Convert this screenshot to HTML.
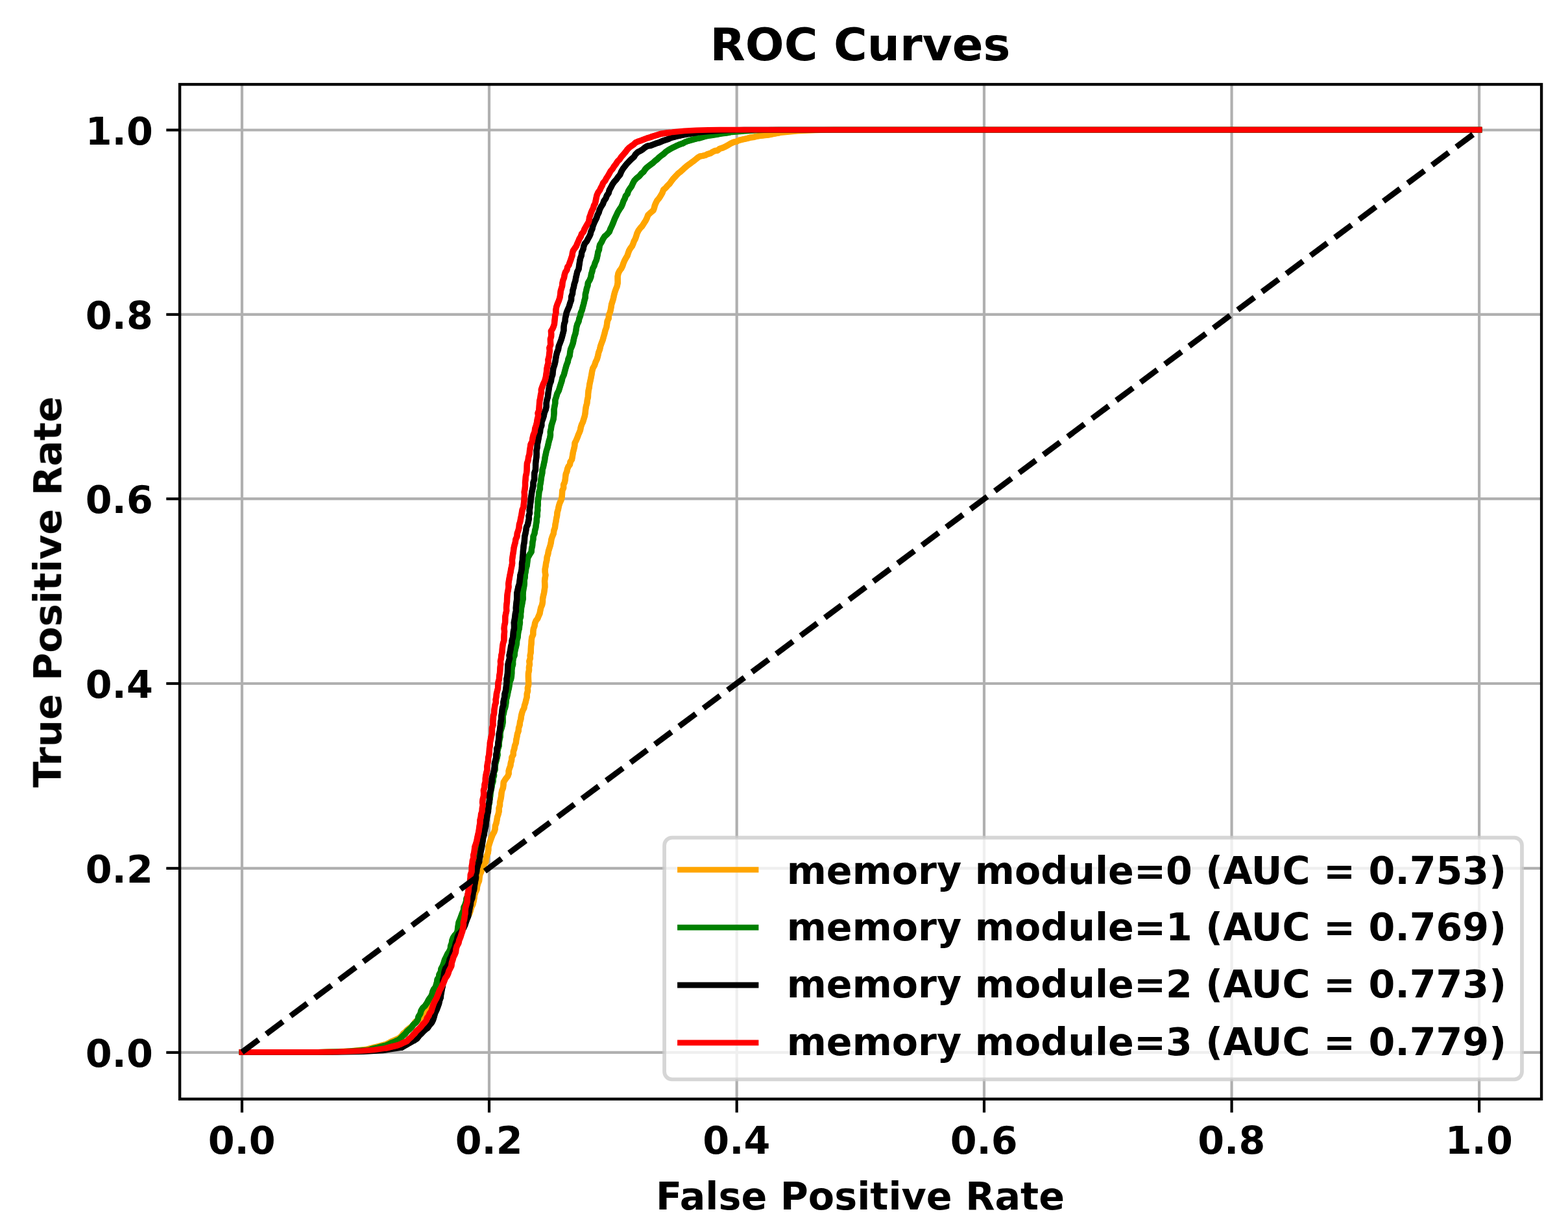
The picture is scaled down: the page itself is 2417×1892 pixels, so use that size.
<!DOCTYPE html>
<html lang="en"><head><meta charset="utf-8"><title>ROC Curves</title>
<style>html,body{margin:0;padding:0;background:#fff;overflow:hidden}svg{display:block}text{font-family:"DejaVu Sans","Liberation Sans",sans-serif;font-weight:bold;fill:#000}</style></head><body>
<svg xmlns="http://www.w3.org/2000/svg" width="2417" height="1892" viewBox="0 0 2417 1892">
<rect x="0" y="0" width="2417" height="1892" fill="#ffffff"/>
<defs><filter id="soft" x="0" y="0" width="2417" height="1892" filterUnits="userSpaceOnUse"><feGaussianBlur stdDeviation="0.35"/></filter></defs>
<g filter="url(#soft)">
<g stroke="#b0b0b0" stroke-width="4.2" fill="none">
<line x1="373" y1="130.1" x2="373" y2="1694.7"/>
<line x1="754" y1="130.1" x2="754" y2="1694.7"/>
<line x1="1135.7" y1="130.1" x2="1135.7" y2="1694.7"/>
<line x1="1517" y1="130.1" x2="1517" y2="1694.7"/>
<line x1="1898.6" y1="130.1" x2="1898.6" y2="1694.7"/>
<line x1="2280.1" y1="130.1" x2="2280.1" y2="1694.7"/>
<line x1="277.1" y1="1622.9" x2="2376.1" y2="1622.9"/>
<line x1="277.1" y1="1338.9" x2="2376.1" y2="1338.9"/>
<line x1="277.1" y1="1054" x2="2376.1" y2="1054"/>
<line x1="277.1" y1="769.2" x2="2376.1" y2="769.2"/>
<line x1="277.1" y1="484.9" x2="2376.1" y2="484.9"/>
<line x1="277.1" y1="200.5" x2="2376.1" y2="200.5"/>
</g>
<g fill="none" stroke-width="8.8" stroke-linejoin="round" stroke-linecap="square" transform="translate(0 -0.35)">
<polyline stroke="#ffa500" points="373,1622.7 490,1622.7 515,1621.9 540,1620.9 567.5,1618 572.08,1616.77 576.67,1615.54 581.26,1614.35 585.83,1613.06 590.42,1611.84 595,1610.6 599.06,1608.72 602.99,1606.58 607.12,1604.85 611.21,1603.03 615.2,1601 618.76,1598.15 621.41,1594.35 624.91,1591.44 628.01,1588.1 631.7,1585.4 635.06,1582.66 637.99,1579.49 640.4,1575.8 644.38,1573.68 647.41,1570.61 650,1567.1 652.91,1563.56 655.6,1559.86 658.2,1556.1 659.79,1551.67 661.63,1547.37 664.3,1543.46 665.72,1538.95 668.3,1535 669.75,1531.15 671.66,1527.52 673.23,1523.72 675.61,1520.34 677.5,1516.7 678.8,1512.08 680.71,1507.64 681.65,1502.91 683,1498.3 684.56,1493.78 685.75,1489.15 687.34,1484.64 688.5,1480 689.82,1476.23 690.96,1472.39 693.28,1468.99 694,1465 696.14,1461.51 697.44,1457.68 698.77,1453.86 700,1450 702.11,1445.54 704.33,1441.15 707,1437 710.53,1434.11 714.4,1431.7 715.22,1426.92 717.2,1422.5 719.59,1418.08 721.17,1413.29 723.79,1408.97 725.4,1404.2 726.62,1399.55 728.76,1395.18 729.99,1390.54 730.9,1385.8 731.37,1381.05 732.81,1376.55 734.91,1372.22 735.5,1367.5 736.68,1362.91 738.58,1358.51 739.01,1353.71 739.79,1349.01 741.76,1344.63 742.8,1340 745.14,1336.59 746.52,1332.64 748.8,1329.2 749.15,1324.5 750.4,1319.99 752.19,1315.58 752.82,1310.94 752.86,1306.18 754.3,1301.7 755.82,1296.97 757.48,1292.29 759.28,1287.67 761.7,1283.3 763.17,1278.81 763.39,1274.03 764.98,1269.57 765.89,1264.95 766.61,1260.29 768.1,1255.8 769.17,1251.27 769.09,1246.55 770.55,1242.08 770.57,1237.38 771.74,1232.87 772.6,1228.3 772.94,1223.83 773.76,1219.45 775.47,1215.21 775.98,1210.77 776.3,1206.3 779.28,1201.59 782.7,1197.2 784.15,1193.28 784.15,1189.03 785.32,1185.05 786.86,1181.15 787.3,1177 788.59,1172.65 788.96,1168.06 791.26,1163.97 791.31,1159.3 792.8,1155 793.54,1150.34 795.31,1145.92 795.77,1141.2 796.79,1136.6 797.55,1131.95 799.2,1127.5 799.52,1122.81 801.08,1118.36 801.5,1113.68 802.87,1109.19 803.44,1104.55 804.5,1100 805.79,1096.03 807.81,1092.31 808.53,1088.14 809.9,1084.2 810.93,1079.62 812.25,1075.1 812.24,1070.31 813.6,1065.8 813.34,1061.2 814.62,1056.68 814.72,1052.1 814.5,1047.5 814.37,1042.91 814.52,1038.33 815.51,1033.79 815.4,1029.2 816.46,1024.66 815.88,1019.96 817.38,1015.46 817.2,1010.8 818.21,1006.28 818.29,1001.66 818.52,997.06 819.1,992.5 819.23,987.84 819.81,983.26 821.77,978.87 821.8,974.2 822.38,969.82 823.95,965.66 824.6,961.3 826.12,957.5 828.66,954.2 830.2,950.41 831.9,946.7 832.77,942.03 833.76,937.39 835.65,932.97 836.5,928.3 836.58,923.64 837.47,919.09 838.61,914.59 839.2,910 839.92,905.45 839.81,900.86 839.57,896.26 840.1,891.7 840.93,887.13 840.19,882.48 840.17,877.86 841.1,873.3 841.68,868.66 842.83,864.14 843.2,859.46 844.7,855 845.41,850.31 846.82,845.81 848.25,841.3 849.3,836.7 849.95,831.97 851.41,827.45 853.28,823.03 853.9,818.3 855.48,813.86 855.97,809.19 856.94,804.63 857.6,800 858.65,795.36 858.97,790.57 860.4,786 861.31,780.91 862.82,776 865,771.3 866.17,766.5 866.48,761.6 866.8,756.7 868.66,752.58 868.62,747.92 870.5,743.8 871.29,739.56 871.68,735.26 872.3,731 873.84,727.44 874.53,723.59 876,720 878.46,716.65 879.13,712.4 881.5,709 882.46,703.51 883.3,698 884.56,693.16 885.72,688.3 886.1,683.3 888.24,679.16 890.03,674.88 891.6,670.5 893.19,666.96 894.55,663.35 895.2,659.5 896.54,655.16 898.51,651.05 899.8,646.7 901.28,641.91 902.18,637 902.6,632 903.39,627.08 904.8,622.27 905.3,617.3 906.41,612.5 906.6,607.58 907.1,602.7 908.21,597.83 908.8,592.87 909.9,588 910.91,583.12 911.85,578.23 912.6,573.3 913.88,568.23 916.45,563.64 918.1,558.7 920.29,554.01 921.67,549.06 922.7,544 924.54,539.2 925.62,534.15 927.3,529.3 929.15,524.53 930.47,519.6 931.9,514.7 933.05,509.78 934.83,505.02 935.6,500 936.19,495.43 938.24,491.24 938.41,486.56 940.2,482.3 941.26,478.21 942.02,474.04 942.61,469.84 943.9,465.8 945.4,461 946.36,456.07 947.6,451.2 949.29,446.35 951.23,441.58 952.2,436.5 952.16,431.58 952.12,426.66 953.1,421.8 954.99,417.99 957.58,414.59 959.5,410.8 960.95,406.37 962.74,402.08 965,398 967.06,394.55 968.27,390.75 969.6,387 971.66,383.29 974.34,379.94 976,376 977.31,372.24 979.28,368.76 980.6,365 982.01,360.25 984.2,355.8 986.89,352.08 990.08,348.72 992.5,344.8 995.15,340.79 997.24,336.5 998.9,332 1002.89,328.23 1007.1,324.7 1008.44,321.07 1009.32,317.28 1010.8,313.7 1012.81,309.75 1015.66,306.36 1018.1,302.7 1020.83,298.05 1022.7,293 1026.06,290.08 1028.92,286.7 1032.16,283.68 1034.7,280 1038.11,275.55 1042,271.5 1045.36,267.82 1049.29,264.78 1053,261.5 1056,258.63 1059.15,255.94 1062.52,253.53 1065.8,251 1069.1,248.77 1072.19,246.24 1075.25,243.67 1078.6,241.5 1082.83,240.78 1086.99,239.8 1090.88,237.91 1095,236.8 1098.46,234.6 1102.13,232.88 1106.31,232.3 1109.54,229.57 1113.5,228.5 1118.01,226.51 1122.3,224.09 1126.51,221.53 1131,219.5 1135.21,218.63 1139.12,216.69 1143.28,215.66 1147.5,214.8 1152.07,213.74 1156.58,212.43 1161.27,211.92 1165.8,210.7 1170.33,210 1174.88,209.39 1179.43,208.79 1184,208.4 1188.26,207.64 1192.5,206.79 1196.76,206.03 1201,205.2 1229.1,202.4 1256.6,201.1 1284.1,200.5 2280.1,200.5"/>
<polyline stroke="#ffa500" stroke-width="9.5" stroke-linecap="round" points="567.5,1618 572.08,1616.77 576.67,1615.54 581.26,1614.35 585.83,1613.06 590.42,1611.84 595,1610.6 599.06,1608.72 602.99,1606.58 607.12,1604.85 611.21,1603.03 615.2,1601 618.76,1598.15 621.41,1594.35 624.91,1591.44 628.01,1588.1 631.7,1585.4 635.06,1582.66 637.99,1579.49 640.4,1575.8 644.38,1573.68 647.41,1570.61 650,1567.1 652.91,1563.56 655.6,1559.86 658.2,1556.1 659.79,1551.67 661.63,1547.37 664.3,1543.46 665.72,1538.95 668.3,1535 669.75,1531.15 671.66,1527.52 673.23,1523.72 675.61,1520.34 677.5,1516.7 678.8,1512.08 680.71,1507.64 681.65,1502.91 683,1498.3 684.56,1493.78 685.75,1489.15 687.34,1484.64 688.5,1480 689.82,1476.23 690.96,1472.39 693.28,1468.99 694,1465 696.14,1461.51 697.44,1457.68 698.77,1453.86 700,1450 702.11,1445.54 704.33,1441.15 707,1437 710.53,1434.11 714.4,1431.7 715.22,1426.92 717.2,1422.5 719.59,1418.08 721.17,1413.29 723.79,1408.97 725.4,1404.2 726.62,1399.55 728.76,1395.18 729.99,1390.54 730.9,1385.8 731.37,1381.05 732.81,1376.55 734.91,1372.22 735.5,1367.5 736.68,1362.91 738.58,1358.51 739.01,1353.71 739.79,1349.01 741.76,1344.63 742.8,1340 745.14,1336.59 746.52,1332.64 748.8,1329.2 749.15,1324.5 750.4,1319.99 752.19,1315.58 752.82,1310.94 752.86,1306.18 754.3,1301.7 755.82,1296.97 757.48,1292.29 759.28,1287.67 761.7,1283.3 763.17,1278.81 763.39,1274.03 764.98,1269.57 765.89,1264.95 766.61,1260.29 768.1,1255.8 769.17,1251.27 769.09,1246.55 770.55,1242.08 770.57,1237.38 771.74,1232.87 772.6,1228.3 772.94,1223.83 773.76,1219.45 775.47,1215.21 775.98,1210.77 776.3,1206.3 779.28,1201.59 782.7,1197.2 784.15,1193.28 784.15,1189.03 785.32,1185.05 786.86,1181.15 787.3,1177 788.59,1172.65 788.96,1168.06 791.26,1163.97 791.31,1159.3 792.8,1155 793.54,1150.34 795.31,1145.92 795.77,1141.2 796.79,1136.6 797.55,1131.95 799.2,1127.5 799.52,1122.81 801.08,1118.36 801.5,1113.68 802.87,1109.19 803.44,1104.55 804.5,1100 805.79,1096.03 807.81,1092.31 808.53,1088.14 809.9,1084.2 810.93,1079.62 812.25,1075.1 812.24,1070.31 813.6,1065.8 813.34,1061.2 814.62,1056.68 814.72,1052.1 814.5,1047.5 814.37,1042.91 814.52,1038.33 815.51,1033.79 815.4,1029.2 816.46,1024.66 815.88,1019.96 817.38,1015.46 817.2,1010.8 818.21,1006.28 818.29,1001.66 818.52,997.06 819.1,992.5 819.23,987.84 819.81,983.26 821.77,978.87 821.8,974.2 822.38,969.82 823.95,965.66 824.6,961.3 826.12,957.5 828.66,954.2 830.2,950.41 831.9,946.7 832.77,942.03 833.76,937.39 835.65,932.97 836.5,928.3 836.58,923.64 837.47,919.09 838.61,914.59 839.2,910 839.92,905.45 839.81,900.86 839.57,896.26 840.1,891.7 840.93,887.13 840.19,882.48 840.17,877.86 841.1,873.3 841.68,868.66 842.83,864.14 843.2,859.46 844.7,855 845.41,850.31 846.82,845.81 848.25,841.3 849.3,836.7 849.95,831.97 851.41,827.45 853.28,823.03 853.9,818.3 855.48,813.86 855.97,809.19 856.94,804.63 857.6,800 858.65,795.36 858.97,790.57 860.4,786 861.31,780.91 862.82,776 865,771.3 866.17,766.5 866.48,761.6 866.8,756.7 868.66,752.58 868.62,747.92 870.5,743.8 871.29,739.56 871.68,735.26 872.3,731 873.84,727.44 874.53,723.59 876,720 878.46,716.65 879.13,712.4 881.5,709 882.46,703.51 883.3,698 884.56,693.16 885.72,688.3 886.1,683.3 888.24,679.16 890.03,674.88 891.6,670.5 893.19,666.96 894.55,663.35 895.2,659.5 896.54,655.16 898.51,651.05 899.8,646.7 901.28,641.91 902.18,637 902.6,632 903.39,627.08 904.8,622.27 905.3,617.3 906.41,612.5 906.6,607.58 907.1,602.7 908.21,597.83 908.8,592.87 909.9,588 910.91,583.12 911.85,578.23 912.6,573.3 913.88,568.23 916.45,563.64 918.1,558.7 920.29,554.01 921.67,549.06 922.7,544 924.54,539.2 925.62,534.15 927.3,529.3 929.15,524.53 930.47,519.6 931.9,514.7 933.05,509.78 934.83,505.02 935.6,500 936.19,495.43 938.24,491.24 938.41,486.56 940.2,482.3 941.26,478.21 942.02,474.04 942.61,469.84 943.9,465.8 945.4,461 946.36,456.07 947.6,451.2 949.29,446.35 951.23,441.58 952.2,436.5 952.16,431.58 952.12,426.66 953.1,421.8 954.99,417.99 957.58,414.59 959.5,410.8 960.95,406.37 962.74,402.08 965,398 967.06,394.55 968.27,390.75 969.6,387 971.66,383.29 974.34,379.94 976,376 977.31,372.24 979.28,368.76 980.6,365 982.01,360.25 984.2,355.8 986.89,352.08 990.08,348.72 992.5,344.8 995.15,340.79 997.24,336.5 998.9,332 1002.89,328.23 1007.1,324.7 1008.44,321.07 1009.32,317.28 1010.8,313.7 1012.81,309.75 1015.66,306.36 1018.1,302.7 1020.83,298.05 1022.7,293 1026.06,290.08 1028.92,286.7 1032.16,283.68 1034.7,280 1038.11,275.55 1042,271.5 1045.36,267.82 1049.29,264.78 1053,261.5 1056,258.63 1059.15,255.94 1062.52,253.53 1065.8,251 1069.1,248.77 1072.19,246.24 1075.25,243.67 1078.6,241.5 1082.83,240.78 1086.99,239.8 1090.88,237.91 1095,236.8 1098.46,234.6 1102.13,232.88 1106.31,232.3 1109.54,229.57 1113.5,228.5 1118.01,226.51 1122.3,224.09 1126.51,221.53 1131,219.5 1135.21,218.63 1139.12,216.69 1143.28,215.66 1147.5,214.8 1152.07,213.74 1156.58,212.43 1161.27,211.92 1165.8,210.7 1170.33,210 1174.88,209.39 1179.43,208.79 1184,208.4 1188.26,207.64 1192.5,206.79 1196.76,206.03 1201,205.2"/>
<polyline stroke="#008000" points="373,1622.7 490,1622.7 530,1621.7 567.5,1619.3 572.08,1618.15 576.67,1617 581.25,1615.85 585.83,1614.67 590.4,1613.47 595,1612.4 599.02,1610.54 603.03,1608.66 607.2,1607.12 611.22,1605.25 615.2,1603.3 618.48,1600.25 621.65,1597.09 624.96,1594.06 627.65,1590.41 631.14,1587.57 634.4,1584.5 637.23,1580.24 641.24,1576.92 644,1572.6 645.12,1567.79 647.82,1563.55 649.1,1558.8 651.66,1554.47 655.37,1551.03 658.2,1546.9 659.95,1543.36 661.98,1539.98 664.47,1536.86 666,1533.2 666.98,1529.26 668.64,1525.6 671.33,1522.41 672.4,1518.5 673.56,1514.6 674.15,1510.54 676.5,1506.99 677,1502.9 679.35,1498.84 680.03,1494.09 682.3,1490 684.03,1485.19 685.49,1480.28 687.8,1475.7 689.7,1471.58 692.22,1467.78 694.2,1463.7 694.67,1459.04 696.34,1454.62 697,1450 698.51,1446.23 700.7,1442.86 703.53,1439.88 705.2,1436.2 705.7,1431.61 706.35,1427.05 707.1,1422.5 709.05,1417.97 710.72,1413.34 712.42,1408.72 714.4,1404.2 714.91,1399.44 717.01,1395.08 718.48,1390.56 719,1385.8 720.84,1381.82 721.62,1377.54 722.41,1373.26 723.62,1369.11 725,1365 726.26,1361.06 727.24,1357.06 727.48,1352.87 728.64,1348.91 730,1345 731.07,1340.94 732.52,1337 734.16,1333.13 735,1329 736.17,1324.45 736.69,1319.74 738.94,1315.46 739.57,1310.78 740.86,1306.26 742,1301.7 742.62,1297 743.9,1292.45 744.85,1287.82 746.37,1283.31 746.46,1278.5 748,1274 748.9,1269.46 749.22,1264.82 750.77,1260.4 750.7,1255.68 751.86,1251.19 753,1246.7 753.47,1242.08 754.56,1237.55 754.44,1232.84 755.69,1228.34 756.03,1223.7 756.82,1219.13 757.78,1214.58 758.5,1210 759.94,1205.52 760.1,1200.82 761.57,1196.35 761.29,1191.57 763.15,1187.17 763.19,1182.44 763.76,1177.81 765,1173.3 766.09,1168.78 767.07,1164.24 766.57,1159.46 767.68,1154.95 769.12,1150.49 769.28,1145.81 769.89,1141.22 771,1136.7 771.01,1132.01 771.74,1127.43 773.23,1122.96 774.42,1118.45 775.13,1113.87 775.13,1109.18 775.15,1104.49 776.5,1100 777.09,1095.78 778.56,1091.75 779.46,1087.59 780.02,1083.37 780.3,1079.09 781.5,1075 782.46,1070.43 783.32,1065.84 784.45,1061.31 785.2,1056.7 785.77,1052.04 787.61,1047.62 788.44,1043.01 788.8,1038.3 788.78,1033.68 789.41,1029.12 790.67,1024.63 790.6,1020 791.22,1015.36 793.06,1010.97 793.4,1006.28 794.3,1001.7 795.49,997.15 796.43,992.56 796.68,987.82 798,983.3 798.38,978.68 799.01,974.1 800.28,969.61 800.7,965 801.45,960.45 801.14,955.8 802.66,951.33 802.6,946.7 803.16,942.08 803.59,937.45 804.54,932.89 805.3,928.3 806.27,923.47 805.98,918.57 806.2,913.7 806.85,909.12 807.73,904.56 808.27,899.97 808.1,895.3 809.14,890.78 809.34,886.13 810.25,881.59 810.8,877 812.05,872.97 812.6,868.82 813.01,864.64 813.6,860.5 816.17,855.79 819.1,851.3 819.52,846.41 820.63,841.61 820.9,836.7 821.91,832.12 822.09,827.37 823.96,822.96 824.6,818.3 825.83,813.81 826.36,809.21 827.18,804.66 827.3,800 828.25,795.79 828.11,791.48 828.84,787.26 828.65,782.95 829.2,778.7 829.07,773.75 829.86,768.88 830.5,764 830.87,759.07 832.37,754.28 832.4,749.3 833.43,744.47 833.99,739.58 834.7,734.7 835.8,729.83 836.05,724.8 837.5,720 838.45,715.11 839.58,710.25 840.2,705.3 841.29,700.4 842.32,695.48 843.9,690.7 845.01,685.77 846.13,680.84 847.6,676 848.46,671.13 848.3,666.14 849.4,661.3 850.08,656.29 851.61,651.5 853.1,646.7 853.67,641.82 854.06,636.92 854,632 854.82,627.13 855.8,622.27 855.8,617.3 857.46,612.37 858.85,607.33 861.3,602.7 862.82,597.79 864.29,592.88 865.9,588 867,582.97 869.19,578.27 870.5,573.3 871.82,568.37 873.22,563.46 875.1,558.7 876.07,553.74 878.1,549.05 878.7,544 879.58,538.89 881.58,534.14 883.3,529.3 884.23,524.36 885.36,519.46 887,514.7 887.91,509.78 888.62,504.82 890,500 892,495.91 892.88,491.44 894.58,487.25 895.31,482.73 897.2,478.6 898.35,473.72 899.74,468.9 900.8,464 902.2,459.19 902.32,454.13 903.6,449.3 904.44,445.02 905.89,440.87 906.3,436.5 909.02,432.11 910.9,427.3 911.46,422.95 912.82,418.78 913.7,414.5 915.87,410.38 917.23,405.91 919.2,401.7 920.34,397.45 921.22,393.15 921.9,388.8 923.47,385.3 923.84,381.49 924.7,377.8 927.35,373.66 929.38,369.16 932,365 935.88,361.58 939.3,357.7 940.9,353.3 942.97,349.1 944.8,344.8 946.45,340.46 948.22,336.16 950.3,332 952.33,327.48 954.9,323.27 957.7,319.2 959.59,314.92 961.05,310.46 963.2,306.3 964.46,302.37 967.23,299.19 968.41,295.22 970.5,291.7 973.46,287.7 975.49,283.17 977.8,278.8 981.36,275.02 985.5,271.84 988.8,267.8 991.95,265.36 994.12,261.98 996.67,258.96 999.8,256.5 1003.17,253.95 1006.59,251.47 1009.62,248.52 1013.01,246.01 1016,243 1019.42,240.15 1023.1,237.63 1026.3,234.49 1030,232 1033.3,230.05 1036.65,228.19 1040.1,226.5 1044.01,224.6 1047.99,222.87 1052.18,221.61 1056,219.5 1060.4,217.79 1064.92,216.48 1069.44,215.17 1074,214 1078.7,213.19 1083.25,211.76 1087.82,210.39 1092.5,209.5 1097.15,208.88 1101.77,208.13 1106.39,207.34 1111,206.5 1115.32,205.87 1119.66,205.34 1123.97,204.68 1128.3,204.1 1146.7,202.6 1165,201.5 1183.3,200.8 1200,200.5 2280.1,200.5"/>
<polyline stroke="#008000" stroke-width="9.5" stroke-linecap="round" points="572.08,1618.15 576.67,1617 581.25,1615.85 585.83,1614.67 590.4,1613.47 595,1612.4 599.02,1610.54 603.03,1608.66 607.2,1607.12 611.22,1605.25 615.2,1603.3 618.48,1600.25 621.65,1597.09 624.96,1594.06 627.65,1590.41 631.14,1587.57 634.4,1584.5 637.23,1580.24 641.24,1576.92 644,1572.6 645.12,1567.79 647.82,1563.55 649.1,1558.8 651.66,1554.47 655.37,1551.03 658.2,1546.9 659.95,1543.36 661.98,1539.98 664.47,1536.86 666,1533.2 666.98,1529.26 668.64,1525.6 671.33,1522.41 672.4,1518.5 673.56,1514.6 674.15,1510.54 676.5,1506.99 677,1502.9 679.35,1498.84 680.03,1494.09 682.3,1490 684.03,1485.19 685.49,1480.28 687.8,1475.7 689.7,1471.58 692.22,1467.78 694.2,1463.7 694.67,1459.04 696.34,1454.62 697,1450 698.51,1446.23 700.7,1442.86 703.53,1439.88 705.2,1436.2 705.7,1431.61 706.35,1427.05 707.1,1422.5 709.05,1417.97 710.72,1413.34 712.42,1408.72 714.4,1404.2 714.91,1399.44 717.01,1395.08 718.48,1390.56 719,1385.8 720.84,1381.82 721.62,1377.54 722.41,1373.26 723.62,1369.11 725,1365 726.26,1361.06 727.24,1357.06 727.48,1352.87 728.64,1348.91 730,1345 731.07,1340.94 732.52,1337 734.16,1333.13 735,1329 736.17,1324.45 736.69,1319.74 738.94,1315.46 739.57,1310.78 740.86,1306.26 742,1301.7 742.62,1297 743.9,1292.45 744.85,1287.82 746.37,1283.31 746.46,1278.5 748,1274 748.9,1269.46 749.22,1264.82 750.77,1260.4 750.7,1255.68 751.86,1251.19 753,1246.7 753.47,1242.08 754.56,1237.55 754.44,1232.84 755.69,1228.34 756.03,1223.7 756.82,1219.13 757.78,1214.58 758.5,1210 759.94,1205.52 760.1,1200.82 761.57,1196.35 761.29,1191.57 763.15,1187.17 763.19,1182.44 763.76,1177.81 765,1173.3 766.09,1168.78 767.07,1164.24 766.57,1159.46 767.68,1154.95 769.12,1150.49 769.28,1145.81 769.89,1141.22 771,1136.7 771.01,1132.01 771.74,1127.43 773.23,1122.96 774.42,1118.45 775.13,1113.87 775.13,1109.18 775.15,1104.49 776.5,1100 777.09,1095.78 778.56,1091.75 779.46,1087.59 780.02,1083.37 780.3,1079.09 781.5,1075 782.46,1070.43 783.32,1065.84 784.45,1061.31 785.2,1056.7 785.77,1052.04 787.61,1047.62 788.44,1043.01 788.8,1038.3 788.78,1033.68 789.41,1029.12 790.67,1024.63 790.6,1020 791.22,1015.36 793.06,1010.97 793.4,1006.28 794.3,1001.7 795.49,997.15 796.43,992.56 796.68,987.82 798,983.3 798.38,978.68 799.01,974.1 800.28,969.61 800.7,965 801.45,960.45 801.14,955.8 802.66,951.33 802.6,946.7 803.16,942.08 803.59,937.45 804.54,932.89 805.3,928.3 806.27,923.47 805.98,918.57 806.2,913.7 806.85,909.12 807.73,904.56 808.27,899.97 808.1,895.3 809.14,890.78 809.34,886.13 810.25,881.59 810.8,877 812.05,872.97 812.6,868.82 813.01,864.64 813.6,860.5 816.17,855.79 819.1,851.3 819.52,846.41 820.63,841.61 820.9,836.7 821.91,832.12 822.09,827.37 823.96,822.96 824.6,818.3 825.83,813.81 826.36,809.21 827.18,804.66 827.3,800 828.25,795.79 828.11,791.48 828.84,787.26 828.65,782.95 829.2,778.7 829.07,773.75 829.86,768.88 830.5,764 830.87,759.07 832.37,754.28 832.4,749.3 833.43,744.47 833.99,739.58 834.7,734.7 835.8,729.83 836.05,724.8 837.5,720 838.45,715.11 839.58,710.25 840.2,705.3 841.29,700.4 842.32,695.48 843.9,690.7 845.01,685.77 846.13,680.84 847.6,676 848.46,671.13 848.3,666.14 849.4,661.3 850.08,656.29 851.61,651.5 853.1,646.7 853.67,641.82 854.06,636.92 854,632 854.82,627.13 855.8,622.27 855.8,617.3 857.46,612.37 858.85,607.33 861.3,602.7 862.82,597.79 864.29,592.88 865.9,588 867,582.97 869.19,578.27 870.5,573.3 871.82,568.37 873.22,563.46 875.1,558.7 876.07,553.74 878.1,549.05 878.7,544 879.58,538.89 881.58,534.14 883.3,529.3 884.23,524.36 885.36,519.46 887,514.7 887.91,509.78 888.62,504.82 890,500 892,495.91 892.88,491.44 894.58,487.25 895.31,482.73 897.2,478.6 898.35,473.72 899.74,468.9 900.8,464 902.2,459.19 902.32,454.13 903.6,449.3 904.44,445.02 905.89,440.87 906.3,436.5 909.02,432.11 910.9,427.3 911.46,422.95 912.82,418.78 913.7,414.5 915.87,410.38 917.23,405.91 919.2,401.7 920.34,397.45 921.22,393.15 921.9,388.8 923.47,385.3 923.84,381.49 924.7,377.8 927.35,373.66 929.38,369.16 932,365 935.88,361.58 939.3,357.7 940.9,353.3 942.97,349.1 944.8,344.8 946.45,340.46 948.22,336.16 950.3,332 952.33,327.48 954.9,323.27 957.7,319.2 959.59,314.92 961.05,310.46 963.2,306.3 964.46,302.37 967.23,299.19 968.41,295.22 970.5,291.7 973.46,287.7 975.49,283.17 977.8,278.8 981.36,275.02 985.5,271.84 988.8,267.8 991.95,265.36 994.12,261.98 996.67,258.96 999.8,256.5 1003.17,253.95 1006.59,251.47 1009.62,248.52 1013.01,246.01 1016,243 1019.42,240.15 1023.1,237.63 1026.3,234.49 1030,232 1033.3,230.05 1036.65,228.19 1040.1,226.5 1044.01,224.6 1047.99,222.87 1052.18,221.61 1056,219.5 1060.4,217.79 1064.92,216.48 1069.44,215.17 1074,214 1078.7,213.19 1083.25,211.76 1087.82,210.39 1092.5,209.5 1097.15,208.88 1101.77,208.13 1106.39,207.34 1111,206.5 1115.32,205.87 1119.66,205.34 1123.97,204.68"/>
<polyline stroke="#000000" points="373,1622.7 520,1622.7 560,1622 590,1620.2 618.8,1615.7 623.08,1613.19 627.43,1610.83 631.7,1608.3 635.43,1606.28 639.18,1604.29 642.7,1601.9 646.05,1597.53 650,1593.7 652.81,1590.65 655.8,1587.8 659.2,1585.4 662.1,1581.06 665.6,1577.2 667.71,1572.72 669.2,1568 670.56,1562.77 672.9,1557.9 674.79,1552.87 676.6,1547.8 677.57,1543.14 679.3,1538.7 679.65,1534.36 680.47,1530.09 681.2,1525.8 682.34,1521.29 682.7,1516.67 682.55,1511.98 683.9,1507.5 684.53,1502.84 685.28,1498.2 686.7,1493.7 689.7,1490 691.39,1486.6 692.51,1483 693.3,1479.3 695.23,1475.8 696.79,1472.14 697.9,1468.3 699.76,1463.84 701.56,1459.37 702.5,1454.6 704.42,1450.13 705.24,1445.29 707.1,1440.8 709.92,1438.07 711.95,1434.72 714.4,1431.7 716.56,1427.23 718.13,1422.53 719.78,1417.86 721.7,1413.3 722.44,1408.69 723.45,1404.13 724.22,1399.52 725.4,1395 725.8,1390.32 727.69,1385.94 728.58,1381.36 729.1,1376.7 730.67,1372.23 731.16,1367.55 731.87,1362.91 732.7,1358.3 733.62,1353.77 733.34,1349.09 734.67,1344.61 735,1340 736.16,1336.37 737.04,1332.65 738.7,1329.2 739.06,1324.55 740.26,1320.04 740.66,1315.39 741.71,1310.86 742.68,1306.31 743.3,1301.7 744.07,1297.09 744.63,1292.43 746.04,1287.95 746.6,1283.29 747.52,1278.71 748.8,1274.2 748.99,1269.56 749.85,1265.01 750.06,1260.37 751.48,1255.89 752.51,1251.37 752.5,1246.7 752.92,1242.09 753.95,1237.56 754.83,1233.01 754.17,1228.27 754.88,1223.7 756.38,1219.23 756.99,1214.65 757.1,1210 758.09,1205.45 758.23,1200.74 759.38,1196.22 760.81,1191.74 761.63,1187.16 762.32,1182.55 762.29,1177.82 763.5,1173.3 764.68,1168.8 764.7,1164.12 765.86,1159.62 765.75,1154.92 767.59,1150.52 767.77,1145.87 768.62,1141.32 769,1136.7 769.17,1132.06 770.31,1127.55 770.84,1122.95 771.43,1118.37 771.68,1113.74 772.77,1109.21 772.8,1104.56 773.6,1100 774.02,1095.79 774.54,1091.59 775.95,1087.54 775.86,1083.24 776.72,1079.1 777.8,1075 777.9,1070.33 779.4,1065.88 779.98,1061.29 780.6,1056.7 781.11,1052.11 780.86,1047.44 781.87,1042.89 782.4,1038.3 782.63,1033.7 782.73,1029.09 783.06,1024.51 784.2,1020 785.59,1015.53 785.08,1010.77 786.03,1006.23 787,1001.7 787.58,997.04 788.93,992.53 789.12,987.79 790.6,983.3 791.03,978.72 791.36,974.13 792.49,969.62 792.5,965 792.26,960.36 793.17,955.83 793.85,951.27 794.3,946.7 795.43,942.17 795.27,937.5 795.69,932.9 796.2,928.3 796.89,923.75 796.82,919.12 796.9,914.51 798,910 798.9,905.43 800.36,900.96 801.03,896.34 801.6,891.7 801.97,887.05 803.25,882.54 804.18,877.97 804.4,873.3 804.51,868.69 805.42,864.16 805.55,859.56 806.2,855 806.32,850.39 806.85,845.82 807.21,841.23 808.1,836.7 808.57,832.07 808.81,827.41 809.98,822.88 810.8,818.3 811.39,813.58 813.45,809.24 814.39,804.61 815.4,800 815.09,795.68 816.54,791.51 816.11,787.18 816.89,782.96 817.3,778.7 818.01,773.81 818.33,768.87 819.2,764 819.81,759.05 820.91,754.18 821.9,749.3 822,744.37 823.61,739.63 823.7,734.7 823.79,729.73 825.42,724.96 825.6,720 825.64,715.07 826.19,710.18 826.9,705.3 827.11,700.42 826.98,695.52 828,690.7 828.22,685.72 829.27,680.87 830.2,676 831.02,671.09 832.52,666.3 832.9,661.3 834.8,656.6 834.75,651.41 836.6,646.7 838.18,641.81 839.17,636.75 841.2,632 842.22,627.15 842.15,622.17 843,617.3 844.44,612.53 844.86,607.58 845.7,602.7 846.43,597.67 847.49,592.73 849.4,588 849.99,583.03 851.77,578.3 852.2,573.3 852.92,568.32 854.57,563.56 855.8,558.7 856.56,553.77 857.45,548.86 858.6,544 860.54,539.23 861.28,534.08 863.2,529.3 864.99,524.52 866.42,519.64 867.7,514.7 868.94,509.88 868.99,504.9 869.6,500 871.1,495.7 871.37,491.13 872.48,486.75 873.3,482.3 875.29,477.49 877.41,472.73 878.8,467.7 880.57,462.94 880.74,457.77 882.5,453 882.9,448.01 884.35,443.21 885.2,438.3 886.86,433.54 887.71,428.58 888.9,423.7 889.86,419.32 891.99,415.28 892.6,410.8 893.22,406.61 893.83,402.43 894.69,398.29 896.2,394.3 896.8,389.27 898.97,384.64 899.9,379.7 901.56,375.76 904.43,372.52 906.3,368.7 908.31,365.23 910.01,361.64 910.9,357.7 912.84,353.55 913.87,349.06 915.5,344.8 917.49,340.6 919.6,336.45 921,332 923.11,327.85 924.4,323.35 926.5,319.2 929.25,315.08 930.89,310.33 933.8,306.3 935.39,301.93 938.1,298.04 939.3,293.5 941.73,289.21 943.95,284.8 946.7,280.7 950.04,277.29 952.71,273.32 955.8,269.7 957.66,265.05 960.16,260.77 963.2,256.8 966.28,252.91 969.69,249.31 973.2,245.8 977.02,242.55 979.67,238.23 983.3,234.8 987.24,232.89 990.91,230.57 994.26,227.73 998,225.5 1002.77,224.79 1007.25,223.1 1011.72,221.36 1016.3,220 1020.81,217.92 1025.49,216.27 1030.22,214.75 1034.7,212.6 1038.77,211.68 1042.78,210.56 1046.87,209.72 1050.94,208.83 1055,207.9 1059.56,207.09 1064.15,206.47 1068.71,205.64 1073.3,205 1091.7,203.2 1110,201.9 1128.3,201 1146.7,200.5 2280.1,200.5"/>
<polyline stroke="#000000" stroke-width="9.5" stroke-linecap="round" points="618.8,1615.7 623.08,1613.19 627.43,1610.83 631.7,1608.3 635.43,1606.28 639.18,1604.29 642.7,1601.9 646.05,1597.53 650,1593.7 652.81,1590.65 655.8,1587.8 659.2,1585.4 662.1,1581.06 665.6,1577.2 667.71,1572.72 669.2,1568 670.56,1562.77 672.9,1557.9 674.79,1552.87 676.6,1547.8 677.57,1543.14 679.3,1538.7 679.65,1534.36 680.47,1530.09 681.2,1525.8 682.34,1521.29 682.7,1516.67 682.55,1511.98 683.9,1507.5 684.53,1502.84 685.28,1498.2 686.7,1493.7 689.7,1490 691.39,1486.6 692.51,1483 693.3,1479.3 695.23,1475.8 696.79,1472.14 697.9,1468.3 699.76,1463.84 701.56,1459.37 702.5,1454.6 704.42,1450.13 705.24,1445.29 707.1,1440.8 709.92,1438.07 711.95,1434.72 714.4,1431.7 716.56,1427.23 718.13,1422.53 719.78,1417.86 721.7,1413.3 722.44,1408.69 723.45,1404.13 724.22,1399.52 725.4,1395 725.8,1390.32 727.69,1385.94 728.58,1381.36 729.1,1376.7 730.67,1372.23 731.16,1367.55 731.87,1362.91 732.7,1358.3 733.62,1353.77 733.34,1349.09 734.67,1344.61 735,1340 736.16,1336.37 737.04,1332.65 738.7,1329.2 739.06,1324.55 740.26,1320.04 740.66,1315.39 741.71,1310.86 742.68,1306.31 743.3,1301.7 744.07,1297.09 744.63,1292.43 746.04,1287.95 746.6,1283.29 747.52,1278.71 748.8,1274.2 748.99,1269.56 749.85,1265.01 750.06,1260.37 751.48,1255.89 752.51,1251.37 752.5,1246.7 752.92,1242.09 753.95,1237.56 754.83,1233.01 754.17,1228.27 754.88,1223.7 756.38,1219.23 756.99,1214.65 757.1,1210 758.09,1205.45 758.23,1200.74 759.38,1196.22 760.81,1191.74 761.63,1187.16 762.32,1182.55 762.29,1177.82 763.5,1173.3 764.68,1168.8 764.7,1164.12 765.86,1159.62 765.75,1154.92 767.59,1150.52 767.77,1145.87 768.62,1141.32 769,1136.7 769.17,1132.06 770.31,1127.55 770.84,1122.95 771.43,1118.37 771.68,1113.74 772.77,1109.21 772.8,1104.56 773.6,1100 774.02,1095.79 774.54,1091.59 775.95,1087.54 775.86,1083.24 776.72,1079.1 777.8,1075 777.9,1070.33 779.4,1065.88 779.98,1061.29 780.6,1056.7 781.11,1052.11 780.86,1047.44 781.87,1042.89 782.4,1038.3 782.63,1033.7 782.73,1029.09 783.06,1024.51 784.2,1020 785.59,1015.53 785.08,1010.77 786.03,1006.23 787,1001.7 787.58,997.04 788.93,992.53 789.12,987.79 790.6,983.3 791.03,978.72 791.36,974.13 792.49,969.62 792.5,965 792.26,960.36 793.17,955.83 793.85,951.27 794.3,946.7 795.43,942.17 795.27,937.5 795.69,932.9 796.2,928.3 796.89,923.75 796.82,919.12 796.9,914.51 798,910 798.9,905.43 800.36,900.96 801.03,896.34 801.6,891.7 801.97,887.05 803.25,882.54 804.18,877.97 804.4,873.3 804.51,868.69 805.42,864.16 805.55,859.56 806.2,855 806.32,850.39 806.85,845.82 807.21,841.23 808.1,836.7 808.57,832.07 808.81,827.41 809.98,822.88 810.8,818.3 811.39,813.58 813.45,809.24 814.39,804.61 815.4,800 815.09,795.68 816.54,791.51 816.11,787.18 816.89,782.96 817.3,778.7 818.01,773.81 818.33,768.87 819.2,764 819.81,759.05 820.91,754.18 821.9,749.3 822,744.37 823.61,739.63 823.7,734.7 823.79,729.73 825.42,724.96 825.6,720 825.64,715.07 826.19,710.18 826.9,705.3 827.11,700.42 826.98,695.52 828,690.7 828.22,685.72 829.27,680.87 830.2,676 831.02,671.09 832.52,666.3 832.9,661.3 834.8,656.6 834.75,651.41 836.6,646.7 838.18,641.81 839.17,636.75 841.2,632 842.22,627.15 842.15,622.17 843,617.3 844.44,612.53 844.86,607.58 845.7,602.7 846.43,597.67 847.49,592.73 849.4,588 849.99,583.03 851.77,578.3 852.2,573.3 852.92,568.32 854.57,563.56 855.8,558.7 856.56,553.77 857.45,548.86 858.6,544 860.54,539.23 861.28,534.08 863.2,529.3 864.99,524.52 866.42,519.64 867.7,514.7 868.94,509.88 868.99,504.9 869.6,500 871.1,495.7 871.37,491.13 872.48,486.75 873.3,482.3 875.29,477.49 877.41,472.73 878.8,467.7 880.57,462.94 880.74,457.77 882.5,453 882.9,448.01 884.35,443.21 885.2,438.3 886.86,433.54 887.71,428.58 888.9,423.7 889.86,419.32 891.99,415.28 892.6,410.8 893.22,406.61 893.83,402.43 894.69,398.29 896.2,394.3 896.8,389.27 898.97,384.64 899.9,379.7 901.56,375.76 904.43,372.52 906.3,368.7 908.31,365.23 910.01,361.64 910.9,357.7 912.84,353.55 913.87,349.06 915.5,344.8 917.49,340.6 919.6,336.45 921,332 923.11,327.85 924.4,323.35 926.5,319.2 929.25,315.08 930.89,310.33 933.8,306.3 935.39,301.93 938.1,298.04 939.3,293.5 941.73,289.21 943.95,284.8 946.7,280.7 950.04,277.29 952.71,273.32 955.8,269.7 957.66,265.05 960.16,260.77 963.2,256.8 966.28,252.91 969.69,249.31 973.2,245.8 977.02,242.55 979.67,238.23 983.3,234.8 987.24,232.89 990.91,230.57 994.26,227.73 998,225.5 1002.77,224.79 1007.25,223.1 1011.72,221.36 1016.3,220 1020.81,217.92 1025.49,216.27 1030.22,214.75 1034.7,212.6 1038.77,211.68 1042.78,210.56 1046.87,209.72 1050.94,208.83 1055,207.9 1059.56,207.09 1064.15,206.47 1068.71,205.64 1073.3,205"/>
<polyline stroke="#ff0000" points="373,1622.7 490,1622.7 520,1622.2 540,1621.4 558.3,1620.7 576.7,1619.3 595,1616.6 599.57,1615.44 604.16,1614.32 608.73,1613.18 613.3,1612 617.97,1610.17 622.45,1607.88 627.1,1606 630.01,1602.71 633.42,1599.92 636.3,1596.6 639.49,1593.55 642.17,1590.01 645.4,1587 648.66,1583.84 651.43,1580.24 654.6,1577 657.03,1573.8 658.35,1569.92 660.9,1566.8 662.18,1563.1 664.68,1559.97 665.8,1556.2 667.21,1551.9 668.69,1547.61 670.6,1543.5 672.65,1540.11 674.1,1536.44 675.6,1532.8 677.46,1527.64 680.2,1522.9 681.87,1519.46 683.61,1516.06 685,1512.5 686.52,1508.61 689.05,1505.27 690.8,1501.5 691.98,1497.46 693.92,1493.74 695.8,1490 696.33,1484.87 698,1480 698.96,1476.3 700.7,1472.9 702.55,1468.5 702.97,1463.73 704.3,1459.2 706.77,1454.85 707.89,1449.97 709.8,1445.4 711.18,1440.87 712.77,1436.4 713.5,1431.7 714.43,1427.14 714.31,1422.42 715.65,1417.92 716.2,1413.3 717.09,1408.75 717.16,1404.08 717.74,1399.49 719,1395 720.19,1390.5 720.37,1385.85 720.6,1381.21 721.7,1376.7 722.33,1372.09 722.71,1367.44 724.21,1362.96 724.5,1358.3 725.18,1353.73 725.3,1349.07 726.97,1344.64 727.2,1340 727.23,1335.75 728.1,1331.61 728.35,1327.39 729.93,1323.36 729.66,1319.07 730.84,1314.98 731.4,1310.8 731.91,1306.09 733.51,1301.63 734.85,1297.11 735.71,1292.48 736.67,1287.87 737.8,1283.3 738.47,1278.72 739.09,1274.14 739.99,1269.59 739.99,1264.92 741.2,1260.42 741.56,1255.8 743.12,1251.35 743.3,1246.7 744.37,1242.17 743.62,1237.46 744.19,1232.89 745.43,1228.38 745.71,1223.77 745.41,1219.11 746.82,1214.62 747,1210 748.3,1205.5 748.27,1200.81 748.85,1196.21 749.85,1191.66 751.05,1187.15 750.8,1182.43 751.54,1177.85 752.5,1173.3 752.64,1168.67 753.83,1164.17 754.18,1159.57 754.46,1154.96 755.22,1150.41 755.3,1145.77 756.26,1141.24 757.1,1136.7 758.35,1132.2 758.37,1127.54 758.52,1122.9 760.01,1118.43 759.78,1113.74 760.2,1109.13 760.48,1104.51 761.7,1100 761.76,1095.77 762.38,1091.61 762.98,1087.45 764.42,1083.4 764.12,1079.12 765,1075 765.33,1070.37 766.49,1065.87 767.6,1061.36 767.7,1056.7 768.11,1052.06 769.46,1047.56 769.62,1042.87 770.5,1038.3 770.81,1033.73 771.08,1029.16 771.79,1024.61 771.4,1020 772.46,1015.48 772.81,1010.85 773.97,1006.35 774.2,1001.7 774.69,997.07 775.39,992.48 776.86,987.99 776.9,983.3 777.11,978.73 777.58,974.16 777.09,969.57 777.5,965 778.63,960.49 778.76,955.87 778.8,951.23 779.7,946.7 780.75,942.16 780.56,937.5 780.83,932.88 781.5,928.3 781.62,923.69 781.85,919.1 782.43,914.53 783.3,910 784.04,905.45 783.75,900.8 784.39,896.24 785.2,891.7 786.03,887.09 787.06,882.51 787.74,877.87 788.8,873.3 789.67,868.77 789.41,864.11 790.04,859.56 790.7,855 791.5,850.4 791.99,845.75 793.02,841.2 794.3,836.7 794.97,831.98 796.91,827.58 797.27,822.78 798.9,818.3 800.06,813.77 800.37,809.07 801.88,804.62 802.6,800 803.77,795.04 804.5,790 805.2,786.19 806.89,782.61 807.2,778.7 807.85,773.82 808.15,768.91 808.5,764 808.23,759.05 809.1,754.19 809.6,749.3 809.54,744.42 810.09,739.56 810.4,734.7 811.6,729.87 812.11,724.96 812.2,720 812.39,715 814.05,710.24 814.6,705.3 816.1,700.54 816.46,695.58 817.3,690.7 817.99,685.66 820.26,681.03 821,676 822.13,671.07 824.12,666.36 824.7,661.3 826.41,656.56 827.55,651.68 828.3,646.7 829.6,642.19 829.1,637.41 830.81,632.96 831.1,628.3 831.43,623.4 831.79,618.5 832.9,613.7 833.43,609.55 834.42,605.47 834.32,601.21 835.7,597.2 837.47,592.28 839.74,587.54 841.2,582.5 841.87,577.92 842.59,573.36 842.94,568.73 843.9,564.2 845.25,559.7 844.95,554.95 846.25,550.44 846.7,545.8 847.35,541.24 846.9,536.58 848.74,532.14 848.5,527.5 848.36,523.35 849.63,519.29 849.77,515.16 849.4,511 851.61,507.57 853.25,503.88 854.5,500 854.82,495.7 855.34,491.43 855.67,487.14 856.95,482.95 856.8,478.6 857.7,473.54 859.38,468.71 861.4,464 862.96,459.22 863.69,454.28 864.2,449.3 865.38,445.24 866.64,441.19 866.93,436.93 867.8,432.8 869.48,428.66 870.19,424.24 871.5,420 873.84,416.58 874.63,412.4 877,409 878.15,405.31 879.57,401.7 880.7,398 882,394.43 882.39,390.64 883.4,387 885.75,383.46 888.23,380 889.8,376 891.53,372.28 893.09,368.48 895.3,365 896.55,361.04 899.42,357.89 900.8,354 902.9,350.32 904.93,346.59 907.2,343 908.16,339.34 908.55,335.54 910,332 911.17,328.18 912.73,324.52 914.6,321 915.47,317.23 917.48,313.82 918.2,310 919.09,305.63 920.12,301.31 921.9,297.2 924.48,293.79 926.24,289.91 928.3,286.2 929.86,282.2 932.78,278.99 934.7,275.2 937.09,271.67 939.21,267.97 941.2,264.2 944.24,260.76 946.58,256.8 949.4,253.2 951.86,249.3 955.21,246.07 957.7,242.2 960.87,238.64 963.99,235.05 966.8,231.2 969.74,228.11 973.13,225.56 976.65,223.15 979.7,220.2 984.23,218.33 988.89,216.79 993.42,214.93 998,213.2 1002.11,212.07 1006.1,210.56 1010.18,209.36 1014.28,208.19 1018.3,206.8 1022.89,206.08 1027.49,205.39 1032.1,204.79 1036.7,204.1 1055,202.2 1073.3,201.3 1091.7,200.8 1110,200.5 2280.1,200.5"/>
<polyline stroke="#ff0000" stroke-width="9.5" stroke-linecap="round" points="595,1616.6 599.57,1615.44 604.16,1614.32 608.73,1613.18 613.3,1612 617.97,1610.17 622.45,1607.88 627.1,1606 630.01,1602.71 633.42,1599.92 636.3,1596.6 639.49,1593.55 642.17,1590.01 645.4,1587 648.66,1583.84 651.43,1580.24 654.6,1577 657.03,1573.8 658.35,1569.92 660.9,1566.8 662.18,1563.1 664.68,1559.97 665.8,1556.2 667.21,1551.9 668.69,1547.61 670.6,1543.5 672.65,1540.11 674.1,1536.44 675.6,1532.8 677.46,1527.64 680.2,1522.9 681.87,1519.46 683.61,1516.06 685,1512.5 686.52,1508.61 689.05,1505.27 690.8,1501.5 691.98,1497.46 693.92,1493.74 695.8,1490 696.33,1484.87 698,1480 698.96,1476.3 700.7,1472.9 702.55,1468.5 702.97,1463.73 704.3,1459.2 706.77,1454.85 707.89,1449.97 709.8,1445.4 711.18,1440.87 712.77,1436.4 713.5,1431.7 714.43,1427.14 714.31,1422.42 715.65,1417.92 716.2,1413.3 717.09,1408.75 717.16,1404.08 717.74,1399.49 719,1395 720.19,1390.5 720.37,1385.85 720.6,1381.21 721.7,1376.7 722.33,1372.09 722.71,1367.44 724.21,1362.96 724.5,1358.3 725.18,1353.73 725.3,1349.07 726.97,1344.64 727.2,1340 727.23,1335.75 728.1,1331.61 728.35,1327.39 729.93,1323.36 729.66,1319.07 730.84,1314.98 731.4,1310.8 731.91,1306.09 733.51,1301.63 734.85,1297.11 735.71,1292.48 736.67,1287.87 737.8,1283.3 738.47,1278.72 739.09,1274.14 739.99,1269.59 739.99,1264.92 741.2,1260.42 741.56,1255.8 743.12,1251.35 743.3,1246.7 744.37,1242.17 743.62,1237.46 744.19,1232.89 745.43,1228.38 745.71,1223.77 745.41,1219.11 746.82,1214.62 747,1210 748.3,1205.5 748.27,1200.81 748.85,1196.21 749.85,1191.66 751.05,1187.15 750.8,1182.43 751.54,1177.85 752.5,1173.3 752.64,1168.67 753.83,1164.17 754.18,1159.57 754.46,1154.96 755.22,1150.41 755.3,1145.77 756.26,1141.24 757.1,1136.7 758.35,1132.2 758.37,1127.54 758.52,1122.9 760.01,1118.43 759.78,1113.74 760.2,1109.13 760.48,1104.51 761.7,1100 761.76,1095.77 762.38,1091.61 762.98,1087.45 764.42,1083.4 764.12,1079.12 765,1075 765.33,1070.37 766.49,1065.87 767.6,1061.36 767.7,1056.7 768.11,1052.06 769.46,1047.56 769.62,1042.87 770.5,1038.3 770.81,1033.73 771.08,1029.16 771.79,1024.61 771.4,1020 772.46,1015.48 772.81,1010.85 773.97,1006.35 774.2,1001.7 774.69,997.07 775.39,992.48 776.86,987.99 776.9,983.3 777.11,978.73 777.58,974.16 777.09,969.57 777.5,965 778.63,960.49 778.76,955.87 778.8,951.23 779.7,946.7 780.75,942.16 780.56,937.5 780.83,932.88 781.5,928.3 781.62,923.69 781.85,919.1 782.43,914.53 783.3,910 784.04,905.45 783.75,900.8 784.39,896.24 785.2,891.7 786.03,887.09 787.06,882.51 787.74,877.87 788.8,873.3 789.67,868.77 789.41,864.11 790.04,859.56 790.7,855 791.5,850.4 791.99,845.75 793.02,841.2 794.3,836.7 794.97,831.98 796.91,827.58 797.27,822.78 798.9,818.3 800.06,813.77 800.37,809.07 801.88,804.62 802.6,800 803.77,795.04 804.5,790 805.2,786.19 806.89,782.61 807.2,778.7 807.85,773.82 808.15,768.91 808.5,764 808.23,759.05 809.1,754.19 809.6,749.3 809.54,744.42 810.09,739.56 810.4,734.7 811.6,729.87 812.11,724.96 812.2,720 812.39,715 814.05,710.24 814.6,705.3 816.1,700.54 816.46,695.58 817.3,690.7 817.99,685.66 820.26,681.03 821,676 822.13,671.07 824.12,666.36 824.7,661.3 826.41,656.56 827.55,651.68 828.3,646.7 829.6,642.19 829.1,637.41 830.81,632.96 831.1,628.3 831.43,623.4 831.79,618.5 832.9,613.7 833.43,609.55 834.42,605.47 834.32,601.21 835.7,597.2 837.47,592.28 839.74,587.54 841.2,582.5 841.87,577.92 842.59,573.36 842.94,568.73 843.9,564.2 845.25,559.7 844.95,554.95 846.25,550.44 846.7,545.8 847.35,541.24 846.9,536.58 848.74,532.14 848.5,527.5 848.36,523.35 849.63,519.29 849.77,515.16 849.4,511 851.61,507.57 853.25,503.88 854.5,500 854.82,495.7 855.34,491.43 855.67,487.14 856.95,482.95 856.8,478.6 857.7,473.54 859.38,468.71 861.4,464 862.96,459.22 863.69,454.28 864.2,449.3 865.38,445.24 866.64,441.19 866.93,436.93 867.8,432.8 869.48,428.66 870.19,424.24 871.5,420 873.84,416.58 874.63,412.4 877,409 878.15,405.31 879.57,401.7 880.7,398 882,394.43 882.39,390.64 883.4,387 885.75,383.46 888.23,380 889.8,376 891.53,372.28 893.09,368.48 895.3,365 896.55,361.04 899.42,357.89 900.8,354 902.9,350.32 904.93,346.59 907.2,343 908.16,339.34 908.55,335.54 910,332 911.17,328.18 912.73,324.52 914.6,321 915.47,317.23 917.48,313.82 918.2,310 919.09,305.63 920.12,301.31 921.9,297.2 924.48,293.79 926.24,289.91 928.3,286.2 929.86,282.2 932.78,278.99 934.7,275.2 937.09,271.67 939.21,267.97 941.2,264.2 944.24,260.76 946.58,256.8 949.4,253.2 951.86,249.3 955.21,246.07 957.7,242.2 960.87,238.64 963.99,235.05 966.8,231.2 969.74,228.11 973.13,225.56 976.65,223.15 979.7,220.2 984.23,218.33 988.89,216.79 993.42,214.93 998,213.2 1002.11,212.07 1006.1,210.56 1010.18,209.36 1014.28,208.19 1018.3,206.8 1022.89,206.08 1027.49,205.39 1032.1,204.79"/>
</g>
<line x1="373" y1="1622.35" x2="2280.1" y2="200.25" stroke="#000" stroke-width="8.8" stroke-dasharray="32 14.7" fill="none"/>
<g stroke="#000" stroke-width="4.2" fill="none">
<line x1="373" y1="1694.7" x2="373" y2="1715.5"/>
<line x1="754" y1="1694.7" x2="754" y2="1715.5"/>
<line x1="1135.7" y1="1694.7" x2="1135.7" y2="1715.5"/>
<line x1="1517" y1="1694.7" x2="1517" y2="1715.5"/>
<line x1="1898.6" y1="1694.7" x2="1898.6" y2="1715.5"/>
<line x1="2280.1" y1="1694.7" x2="2280.1" y2="1715.5"/>
<line x1="256.3" y1="1622.9" x2="277.1" y2="1622.9"/>
<line x1="256.3" y1="1338.9" x2="277.1" y2="1338.9"/>
<line x1="256.3" y1="1054" x2="277.1" y2="1054"/>
<line x1="256.3" y1="769.2" x2="277.1" y2="769.2"/>
<line x1="256.3" y1="484.9" x2="277.1" y2="484.9"/>
<line x1="256.3" y1="200.5" x2="277.1" y2="200.5"/>
</g>
<rect x="277.1" y="130.1" width="2099" height="1564.6" fill="none" stroke="#000" stroke-width="4.4" stroke-linejoin="miter"/>
<g font-size="58.78px">
<g text-anchor="middle">
<text x="372.7" y="1779.1">0.0</text>
<text x="753.7" y="1779.1">0.2</text>
<text x="1135.4" y="1779.1">0.4</text>
<text x="1516.7" y="1779.1">0.6</text>
<text x="1898.3" y="1779.1">0.8</text>
<text x="2279.8" y="1779.1">1.0</text>
</g>
<g text-anchor="end">
<text x="235.8" y="1644.9">0.0</text>
<text x="235.8" y="1360.9">0.2</text>
<text x="235.8" y="1076">0.4</text>
<text x="235.8" y="791.2">0.6</text>
<text x="235.8" y="506.9">0.8</text>
<text x="235.8" y="222.5">1.0</text>
</g>
<text text-anchor="middle" transform="translate(1326 1864.7) scale(1 1.0)">False Positive Rate</text>
<text text-anchor="middle" transform="translate(94.2 912.9) rotate(-90) scale(1 1.0)">True Positive Rate</text>
</g>
<text text-anchor="middle" font-size="70.53px" transform="translate(1326 92.8) scale(1 0.98)">ROC Curves</text>
<rect x="1024.1" y="1291.7" width="1321.9" height="372.6" rx="11.8" ry="11.8" fill="#ffffff" fill-opacity="0.8" stroke="#cccccc" stroke-opacity="0.8" stroke-width="5.8"/>
<g stroke-width="8.8" stroke-linecap="square" fill="none">
<line x1="1048.5" y1="1341.2" x2="1165" y2="1341.2" stroke="#ffa500"/>
<line x1="1048.5" y1="1430.1" x2="1165" y2="1430.1" stroke="#008000"/>
<line x1="1048.5" y1="1519" x2="1165" y2="1519" stroke="#000000"/>
<line x1="1048.5" y1="1607.9" x2="1165" y2="1607.9" stroke="#ff0000"/>
</g>
<g font-size="58.7px">
<text x="1212.7" y="1362.5">memory module=0 (AUC = 0.753)</text>
<text x="1212.7" y="1450">memory module=1 (AUC = 0.769)</text>
<text x="1212.7" y="1538.1">memory module=2 (AUC = 0.773)</text>
<text x="1212.7" y="1627.2">memory module=3 (AUC = 0.779)</text>
</g>
</g>
</svg></body></html>
